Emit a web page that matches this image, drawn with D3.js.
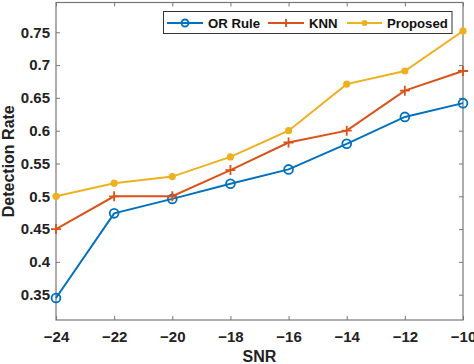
<!DOCTYPE html>
<html><head><meta charset="utf-8">
<script src="https://cdn.jsdelivr.net/npm/d3@7"></script>
<style>body{margin:0;background:#fff}svg{display:block}</style>
</head><body>
<svg id="c" width="474" height="364"></svg>
<script>
const snr = [-24,-22,-20,-18,-16,-14,-12,-10];
const orRule = [0.345,0.474,0.496,0.519,0.541,0.580,0.621,0.642];
const knn = [0.450,0.500,0.500,0.540,0.582,0.600,0.661,0.691];
const proposed = [0.500,0.520,0.530,0.560,0.600,0.671,0.691,0.752];
const yTicks = [0.35,0.4,0.45,0.5,0.55,0.6,0.65,0.7,0.75];
const seriesNames = ["OR Rule","KNN","Proposed"];
const colors = ["#0072BD","#D95319","#EDB120"];

const svg = d3.select("#c");
const L=56, R=463, T=2.5, B=320;
const x = d3.scaleLinear().domain([-24,-10]).range([L,R]);
const y = d3.scaleLinear().domain([0.3114,0.7954]).range([B,T]);
const font = "'Liberation Sans', Arial, sans-serif";
const axisCol = "#777";

svg.append("rect").attr("x",L).attr("y",T).attr("width",R-L).attr("height",B-T)
  .attr("fill","none").attr("stroke",axisCol).attr("stroke-width",1.2);

const xa = svg.append("g").attr("transform",`translate(0,${B})`)
  .call(d3.axisBottom(x).tickValues(snr).tickSize(-4).tickFormat(d3.format("d")));
const xt = svg.append("g").attr("transform",`translate(0,${T})`)
  .call(d3.axisTop(x).tickValues(snr).tickSize(-4).tickFormat(""));
const ya = svg.append("g").attr("transform",`translate(${L},0)`)
  .call(d3.axisLeft(y).tickValues(yTicks).tickSize(-4).tickPadding(6).tickFormat(d=>String(+d.toFixed(2))));
const yr = svg.append("g").attr("transform",`translate(${R},0)`)
  .call(d3.axisRight(y).tickValues(yTicks).tickSize(-4).tickFormat(""));
[xa,xt,ya,yr].forEach(g=>{
  g.select(".domain").remove();
  g.selectAll(".tick line").attr("stroke",axisCol).attr("stroke-width",1);
  g.selectAll("text").attr("font-family",font).attr("font-weight","bold")
   .attr("font-size",15).attr("fill","#222");
});
xa.selectAll("text").attr("dy",null).attr("y",22);

svg.append("text").attr("x",(L+R)/2).attr("y",362).attr("text-anchor","middle")
  .attr("font-family",font).attr("font-weight","bold").attr("font-size",16).attr("fill","#222").text("SNR");
svg.append("text").attr("transform",`translate(14,${(T+B)/2}) rotate(-90)`).attr("text-anchor","middle")
  .attr("font-family",font).attr("font-weight","bold").attr("font-size",16).attr("fill","#222").text("Detection Rate");

const data = [orRule,knn,proposed];
const line = d3.line().x((d,i)=>x(snr[i])).y(d=>y(d));
function marker(g,k,cx,cy,s){
  if(k===0) g.append("circle").attr("cx",cx).attr("cy",cy).attr("r",4.4*s).attr("fill","none").attr("stroke",colors[0]).attr("stroke-width",1.8);
  else if(k===1) g.append("path").attr("d",`M${cx-5*s},${cy}H${cx+5*s}M${cx},${cy-5*s}V${cy+5*s}`).attr("stroke",colors[1]).attr("stroke-width",1.8);
  else g.append("circle").attr("cx",cx).attr("cy",cy).attr("r",3.6*s).attr("fill",colors[2]);
}
data.forEach((s,k)=>{
  const g = svg.append("g");
  g.append("path").datum(s).attr("d",line).attr("fill","none").attr("stroke",colors[k]).attr("stroke-width",2);
  s.forEach((v,i)=>marker(g,k,x(snr[i]),y(v),1));
});

// legend
const lg = svg.append("g");
lg.append("rect").attr("x",163.5).attr("y",11.5).attr("width",288.5).attr("height",22)
  .attr("fill","#fff").attr("stroke","#333").attr("stroke-width",1);
const items = [{x0:167,x1:203,tx:208},{x0:268,x1:304,tx:309},{x0:347,x1:382,tx:387}];
seriesNames.forEach((n,k)=>{
  const it = items[k], ly=23;
  lg.append("line").attr("x1",it.x0).attr("x2",it.x1).attr("y1",ly).attr("y2",ly).attr("stroke",colors[k]).attr("stroke-width",2);
  marker(lg,k,(it.x0+it.x1)/2,ly,0.8);
  lg.append("text").attr("x",it.tx).attr("y",ly).attr("dy","0.36em").attr("font-family",font)
    .attr("font-weight","bold").attr("font-size",13.2).attr("fill","#111").text(n);
});
</script>
</body></html>
